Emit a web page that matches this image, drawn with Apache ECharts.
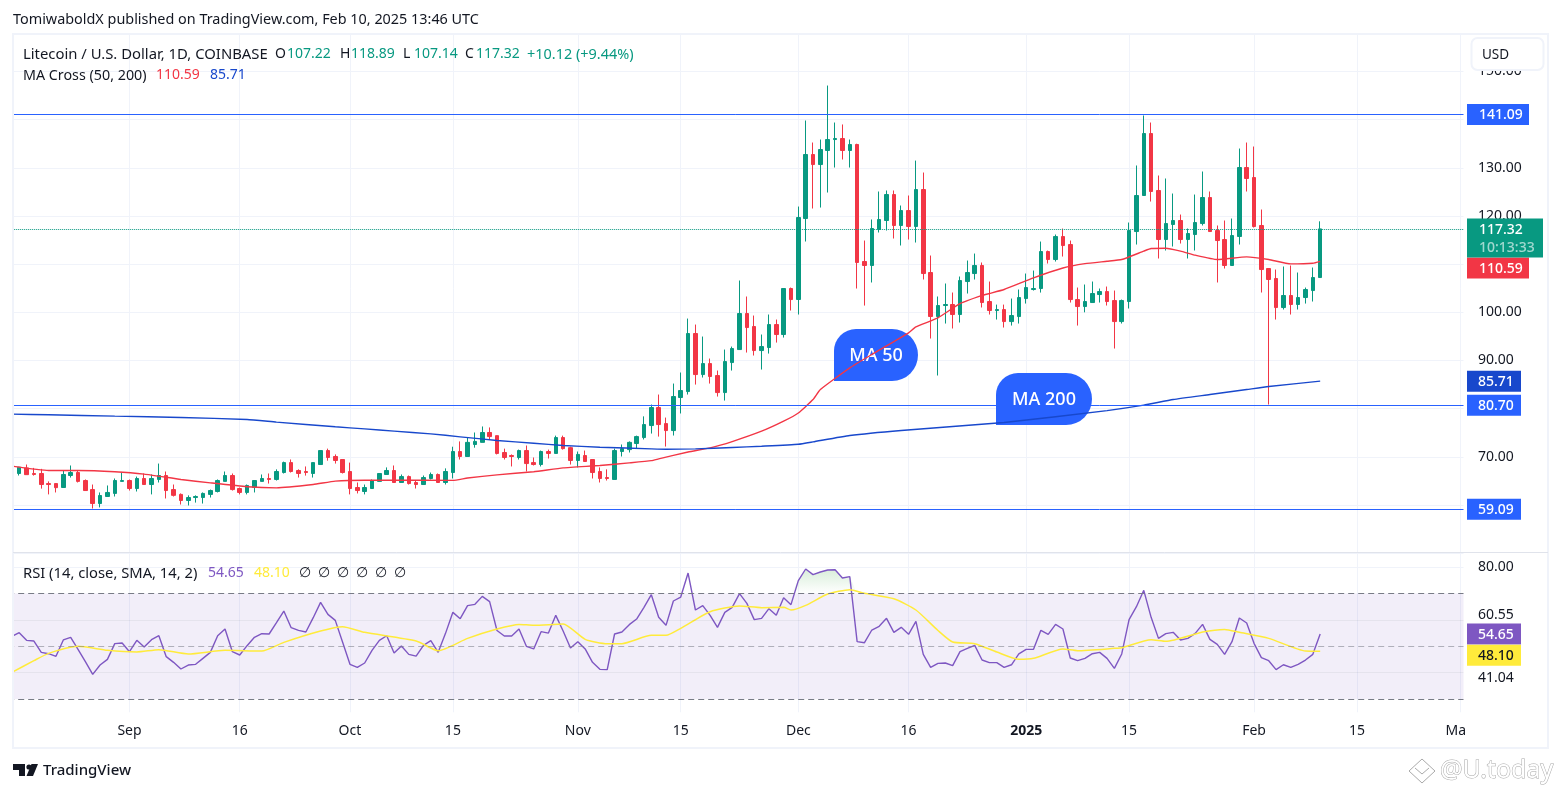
<!DOCTYPE html>
<html>
<head>
<meta charset="utf-8">
<title>LTCUSD</title>
<script src="https://cdn.jsdelivr.net/npm/echarts@6/dist/echarts.min.js"></script>
<style>
    html, body { margin: 0; padding: 0; background: #fff; }
    #main { width: 1561px; height: 792px; }
</style>
</head>
<body>
<div id="main"></div>
<script>
// daily candles, first one is 2024-08-16
var firstDay = '2024-08-16';
var dayCount = 198; // up to 1 March

var opens = [
    65.3,66.54,67.7,66.54,66.54,64.45,64.45,63.63,66.12,66.74,
    65.08,63.2,60.3,61.76,62.4,64.9,65.08,63.42,65.5,64.25,
    65.3,66.12,63.2,62.2,60.93,61.55,61.55,62.2,62.8,64.9,
    66.12,63.42,62.6,63.63,64.9,65.5,65.3,66.74,68.8,67.16,
    66.95,66.54,68.4,71.3,70.07,69.44,66.95,63.63,62.8,63.42,
    64.9,66.33,67.16,64.67,65.9,64.67,64.25,65.5,66.33,64.67,
    66.74,71.1,70.07,72.56,73,75.05,74.4,70.9,70.27,69.86,
    71.3,68.8,68.4,71.1,70.7,74,71.9,69.24,70.27,69.44,
    66.95,65.7,65.3,71.1,71.5,72.76,74,76.49,80.23,76.9,
    75.45,82.31,83.55,95.6,87.08,89.36,86.87,83.34,89.57,92.27,
    99.75,97.05,92.06,92.69,97.46,95.39,104.94,102.66,119.47,132.76,
    130.68,133.59,135.87,136.08,133.59,134.84,110.55,109.72,117.19,119.06,
    124.45,118.02,121.13,117.81,125.49,108.26,99.13,101.41,101.62,99.54,
    106.39,108.05,109.72,102.24,100.37,100.57,98.08,99.12,102.86,104.73,
    104.94,112.62,110.96,115.73,114.07,102.65,101.2,102.03,103.69,104.31,
    102.44,98.08,102.24,116.77,124.25,137.12,125.29,115.11,118.23,119.06,
    115.11,116.15,118.43,123.83,116.98,115.11,109.72,115.74,130.06,127.98,
    118.02,109.09,107.02,100.99,103.49,101.62,103.07,104.52,107.22
];
var closes = [
    66.8,67.85,66.3,66.33,64.25,64.25,63.6,66.33,66.74,64.9,
    63,60.3,61.97,62.6,65.08,65.08,63.42,65.5,64.25,65.5,
    66.12,63,62,60.93,61.55,61.76,62.4,63,65.08,66.12,
    63.2,62.6,64.05,65.08,65.5,65.3,66.95,68.8,66.95,66.54,
    66.74,68.8,71.3,69.86,69.24,66.74,63.42,63,63.63,65.08,
    66.54,67.16,64.67,65.9,64.45,64.25,65.7,66.33,64.67,66.95,
    71.1,70.07,73,73.2,75.05,74.2,70.7,69.86,70.07,71.3,
    68.6,68.4,71.1,70.7,74,71.7,69.24,70.5,69.03,66.74,
    65.5,65.5,71.3,71.7,73,74.2,76.7,80.23,76.7,75.45,
    82.51,83.76,95.6,87.08,89.36,86.67,83.34,89.78,92.48,99.75,
    96.84,92.06,92.89,97.46,95.39,104.94,102.65,119.68,132.76,130.68,
    133.8,135.87,136.08,133.59,134.84,110.34,109.72,117.4,119.27,124.45,
    118.02,121.13,117.81,125.49,108.05,99.13,101.41,101.62,99.54,106.6,
    108.26,109.72,102.03,100.37,100.57,98.08,99.33,103.07,105.14,104.94,
    112.62,110.96,115.73,113.86,102.65,101.2,102.24,103.9,104.31,102.24,
    98.08,102.44,116.98,124.25,137.12,125.08,115.11,118.43,119.06,115.11,
    116.36,118.64,123.83,116.77,114.9,109.72,115.94,130.06,127.78,117.81,
    108.88,106.81,100.99,103.49,101.62,103.07,104.73,107.22,117.32
];
var lows = [
    65,66.12,66.3,66.1,63.4,62.2,62.6,63.63,65.7,64.67,
    63,59.27,59.5,61.76,61.76,64.9,63,62.8,64.25,62.2,
    64.67,61.35,61.76,60.1,59.9,60.5,60.3,61.55,62.6,64.9,
    63,62.2,62.2,62.6,64.9,64.45,65.08,66.54,66.74,65.7,
    66.1,65.7,68.4,69.2,68.6,66.54,62.2,62.4,62.2,63.42,
    64.9,66.33,64.67,64.67,64.25,63.42,64.25,65.3,64.67,64.25,
    65.5,69.44,70.07,71.9,73,73.6,70.5,69.44,68,69.44,
    66.95,68.2,68,69.65,70.7,71.5,68.4,67.8,69.03,65.5,
    64.67,65.08,65.3,70.07,70.9,71.7,73.6,74.83,74.2,72.13,
    74.42,79,82.93,85,86.46,85.21,82.51,81.68,87.91,92.27,
    91.65,91.03,88.12,91.44,93.72,94.76,100.37,99.54,114.7,121.55,
    121.75,124.87,130.06,131.72,130.06,104.94,101.4,106.19,116.57,116.98,
    115.32,113.87,115.11,114.49,106.81,94.56,86.88,97.67,96.64,97.88,
    103.9,106.81,101,99.54,98.5,96.84,97.25,97.67,101.82,104.52,
    104.1,110.13,110.54,111.58,102.03,97.25,100,102.03,102.03,101.41,
    92.48,97.67,100.79,114.07,124.25,123,111.17,112.83,113.66,114.28,
    111.17,112.83,118.02,116.77,106.19,109.09,109.72,114.07,125.08,117.6,
    104.11,80.86,98.5,100.58,99.54,100.58,101.82,102.24,107.14
];
var highs = [
    67.2,67.9,68.4,67.7,67.5,64.9,64.45,67.2,68.2,67.2,
    65.3,64.25,62.6,64.05,65.5,66.74,65.3,65.9,66.54,66.33,
    68.6,66.95,64.25,62.4,62,62,62.6,63.2,65.3,66.95,
    66.54,63.63,64.25,65.08,66.33,66.54,67.4,69,69.45,67.4,
    68,68.8,71.3,71.7,70.5,69.44,68.8,64.67,64.25,65.3,
    66.54,67.8,68.2,66.33,66.12,65.08,66.12,66.74,66.54,67.6,
    72.1,73.2,74,75.05,76.3,76.1,74.4,71.7,70.5,71.5,
    72.35,69.86,71.3,71.5,74.4,74.4,72.1,71.1,71.3,69.44,
    67.8,67.4,71.7,72.56,73.2,74.4,78.4,80.85,82.93,78.15,
    85.21,87.5,98.7,97.46,94.97,90.4,87.91,92.27,92.89,106.6,
    103.28,99.33,95.39,99.54,98.5,104.94,105.14,121.96,139.82,135.25,
    135.87,147.08,139.4,139,135.87,135,114.9,119.27,125.08,125.29,
    125.29,122.17,124.25,131.5,129.02,111.79,103.28,105.98,104.11,107.43,
    110.75,112.2,110.34,106.39,101.6,101.6,102.86,104.73,108.05,108.67,
    114.69,112.82,116.15,117.39,114.9,105.14,105.77,106.39,104.94,105.35,
    104.52,102.65,118.64,130.48,140.86,139.4,128.4,127.78,124.66,120.3,
    117.4,124.45,129.23,125.08,118.02,119.06,119.47,134,135.25,134.42,
    121.34,109.09,108.88,109.51,109.72,108.26,105.14,109.3,118.89
];

// moving averages, read at the listed candle numbers
var ma50Days = [0,5,9,14,18,23,27,32,36,41,44,48,52,60,62,66,71,75,80,84,87,88,92,95,98,102,105,107,109,110,114,117,122,123,126,129,132,133,135,139,143,146,149,151,154,155,157,159,161,164,168,171,174,177,178];
var ma50Values = [68.06,67.16,67.16,66.9,66.4,65.3,64.6,63.8,63.56,64.25,64.95,65.15,65.15,65.1,65.6,66.26,66.9,67.7,68.2,68.75,69.2,69.57,71,71.86,73.17,75.32,77.4,79.1,81.9,83.97,88.47,91.24,95.74,96.98,98.85,101.8,103.5,103.9,104.73,107.15,109.2,110.1,110.6,110.96,112.7,113.24,113.3,112.7,111.86,110.96,111.5,110.96,110.06,110.2,110.59];
var ma200Days = [0,5,14,23,32,36,44,48,52,57,61,66,71,75,80,87,89,93,98,102,107,109,114,121,135,149,154,158,163,168,171,178];
var ma200Values = [78.86,78.72,78.44,78.16,77.75,77.2,76.23,75.8,75.33,74.77,74.15,73.4,72.83,72.35,72,71.66,71.58,71.65,71.93,72.2,72.6,73.1,74.42,75.47,77.12,79.6,80.72,81.9,82.93,83.97,84.6,85.71];

var rsi = [
    53.77,55.16,52.26,52,47.71,47.2,46.2,52.4,53.4,48.85,
    44.18,39.38,42.9,45.06,51,51.25,47.96,52.26,49.73,52.5,
    54,46.07,43.92,41.4,42.9,43.17,45.44,47.71,54,56.55,
    47.96,46.7,50.24,53.4,54.78,54.66,58.95,63.37,57.05,56.04,
    55.4,60.84,66.65,62.1,59.83,51.5,43.17,42,43.67,48.47,
    52.26,54,47.46,50.1,46.95,46.3,50.36,52.13,47.71,54.9,
    62.86,60.46,65.4,65.9,68.92,66.9,56,53.9,53.9,56.55,
    50,49,55.54,55,61.73,55.8,49.35,51.75,49,43.92,
    41.27,41.15,54.66,55.4,58.19,60.34,64.76,69.55,60.97,57.94,
    67.16,68.67,77.76,63.75,65.4,61.73,57.18,62.86,64.76,69.93,
    66.27,60.1,60.6,64.25,61.73,68.42,65.77,74.86,79.28,77.13,
    78.14,78.9,79.02,75.87,76.37,51.75,51.37,56.17,57.56,60.6,
    55.29,57.18,54.53,59.45,46.95,42,43.54,43.67,42.66,47.96,
    49.2,50.36,44.8,43.8,43.8,42,43,47.1,48.85,48.85,
    56.04,54.53,58.32,56.55,45.56,44.55,45.44,47.2,47.71,45.44,
    41.65,47.1,60.1,65,71.2,60.97,53,54.78,55.29,52.4,
    53,54.9,58.32,52.64,50.74,46.95,51.75,60.72,58.82,51.12,
    45.69,44.55,41.15,43,42,43.17,44.8,46.95,54.65
];
var rsiSmaDays = [0,3,5,9,13,17,20,24,29,34,37,42,45,48,55,58,62,66,69,71,75,78,81,83,87,89,91,95,99,102,105,106,108,111,114,116,120,123,126,128,131,134,137,139,143,145,150,151,155,157,162,165,167,171,176,178];
var rsiSmaValues = [40.14,44.55,47.33,50,48.47,47.84,48.72,47.08,48.47,48.2,51.5,55.8,57.43,55.29,52,48.34,53,56.55,58.3,57.94,58.44,52.64,51,51,54.15,54.15,56.8,63.1,65.26,64.63,64.76,63.75,65.5,69.8,71.45,70.06,68,63.75,56,51.63,51,47.84,45.06,45.44,48.97,48.34,49.22,49.48,52.5,51.87,55.4,56.4,55.3,53,48.2,48.1];
var overboughtFrom = 106, overboughtTo = 115;

// x axis ticks
var tickDays = ['2024-09-01','2024-09-16','2024-10-01','2024-10-15','2024-11-01','2024-11-15','2024-12-01','2024-12-16','2025-01-01','2025-01-15','2025-02-01','2025-02-15','2025-03-01'];
var tickLabels = ['Sep','16','Oct','15','Nov','15','Dec','16','{b|2025}','15','Feb','15','{m|Ma}'];
var priceTicks = [150,130,120,100,90,70];
var rsiTicks = [80];

// horizontal levels
var levels = [141.09, 80.70, 59.09];
var lastClose = 117.32;

// price tags at the right edge
var tagValues = [141.09, 110.59, 85.71, 80.70, 59.09, 117.32];
var tagColors = ['#2962ff', '#f23645', '#1848cc', '#2962ff', '#2962ff', '#089981'];
var tagShift = [0, 6.7, 0, 0, 0, 0];
var countdown = '10:13:33';
var rsiTagValues = [54.65, 48.10, 60.55, 41.04];
var rsiTagColors = ['#7e57c2', '#ffeb3b', null, null];
var rsiTagShift = [0, 4, -4.4, 6.7];

var FONT = '"Noto Sans"';
var DARK = '#131722';
var GREEN = '#089981', RED = '#f23645', BLUE = '#2962ff';
var GRIDLINE = '#f0f3fa';

var categories = [];
(function () {
    var t = Date.parse(firstDay + 'T00:00:00Z');
    for (var i = 0; i < dayCount; i++) {
        categories.push(new Date(t + i * 86400000).toISOString().slice(0, 10));
    }
})();

function pairs(days, values) {
    return days.map(function (d, i) { return [categories[d], values[i]]; });
}

function tagSeries(values, colors, shifts, axisIndex) {
    return {
        type: 'custom',
        xAxisIndex: axisIndex,
        yAxisIndex: axisIndex,
        z: 6,
        silent: true,
        encode: { x: 0, y: 1 },
        data: values.map(function (v) { return [categories[0], v]; }),
        renderItem: function (params, api) {
            var i = params.dataIndex;
            var v = values[i];
            var y = api.coord([api.value(0), v])[1];
            var left = 1467;
            var text = v.toFixed(2);
            var kids = [];
            var tagFont = '500 14px ' + FONT;
            if (v === lastClose) {
                kids.push({ type: 'rect', shape: { x: left, y: y - 10.4, width: 76, height: 39 }, style: { fill: colors[i] } });
                kids.push({ type: 'text', style: { text: text, x: left + 12, y: y + 1, fill: '#fff', font: tagFont, textVerticalAlign: 'middle' } });
                kids.push({ type: 'text', style: { text: countdown, x: left + 12, y: y + 19, fill: 'rgba(255,255,255,.62)', font: tagFont, textVerticalAlign: 'middle' } });
                return { type: 'group', children: kids };
            }
            y += shifts[i];
            if (colors[i]) {
                kids.push({ type: 'rect', shape: { x: left, y: y - 10.5, width: v >= 100 ? 62 : 54, height: 21 }, style: { fill: colors[i] } });
            }
            kids.push({ type: 'text', style: {
                text: text, x: left + (v >= 100 ? 12 : 11), y: y + 1,
                fill: !colors[i] || colors[i] === '#ffeb3b' ? DARK : '#fff',
                font: (colors[i] ? tagFont : '14px ' + FONT), textVerticalAlign: 'middle'
            } });
            return { type: 'group', children: kids };
        }
    };
}

function headerText(str, x, y, color, size) {
    return { type: 'text', z: 101, x: x, y: y + 1, silent: true, style: {
        text: str, fill: color || DARK, font: (size || 14) + 'px ' + FONT, textVerticalAlign: 'middle'
    } };
}

function callout(x, y, w, h, label) {
    return [
        { type: 'rect', z: 1, silent: true, shape: { x: x, y: y, width: w, height: h, r: [22, 26, 26, 0] }, style: { fill: BLUE } },
        { type: 'text', z: 1, silent: true, x: x + w / 2, y: y + h / 2 + 1, style: { text: label, fill: '#fff', font: '500 18px ' + FONT, textAlign: 'center', textVerticalAlign: 'middle' } }
    ];
}

var graphics = [
    // white cover round the panes
    { type: 'rect', z: 100, silent: true, shape: { x: 0, y: 0, width: 1561, height: 34 }, style: { fill: '#fff' } },
    { type: 'rect', z: 100, silent: true, shape: { x: 0, y: 0, width: 13, height: 792 }, style: { fill: '#fff' } },
    { type: 'rect', z: 100, silent: true, shape: { x: 13, y: 34, width: 1535, height: 714 }, style: { fill: 'none', stroke: GRIDLINE, lineWidth: 2 } },
    { type: 'line', z: 100, silent: true, shape: { x1: 13, y1: 552.5, x2: 1548, y2: 552.5 }, style: { stroke: '#e0e3eb', lineWidth: 1 } },
    // USD button
    { type: 'rect', z: 100, silent: true, shape: { x: 1471.5, y: 38, width: 72, height: 32, r: 6 }, style: { fill: '#fff', stroke: GRIDLINE, lineWidth: 2 } },
    headerText('USD', 1482, 54, DARK, 13.5),
    headerText('TomiwaboldX published on TradingView.com, Feb 10, 2025 13:46 UTC', 13, 19, DARK, 14.4),
    headerText('Litecoin / U.S. Dollar, 1D, COINBASE', 23, 53.5, DARK, 14.85),
    headerText('O', 275, 53.5), headerText('107.22', 287, 53.5, GREEN),
    headerText('H', 340, 53.5), headerText('118.89', 351, 53.5, GREEN),
    headerText('L', 403, 53.5), headerText('107.14', 414, 53.5, GREEN),
    headerText('C', 465, 53.5), headerText('117.32', 476, 53.5, GREEN),
    headerText('+10.12 (+9.44%)', 527, 53.5, GREEN, 14.45),
    headerText('MA Cross (50, 200)', 23, 74.5, DARK, 14.3),
    headerText('110.59', 156, 74.5, RED),
    headerText('85.71', 210, 74.5, '#1848cc'),
    headerText('RSI (14, close, SMA, 14, 2)', 23, 572.5, DARK, 14.76),
    headerText('54.65', 208, 572.5, '#7e57c2'),
    headerText('48.10', 254, 572.5, '#ffeb3b'),
    headerText('∅', 299, 572.5), headerText('∅', 318, 572.5), headerText('∅', 337, 572.5),
    headerText('∅', 356, 572.5), headerText('∅', 375, 572.5), headerText('∅', 394, 572.5),
    // TradingView logo
    { type: 'polygon', z: 101, silent: true, shape: { points: [[13, 764], [25, 764], [25, 776], [19, 776], [19, 770], [13, 770]] }, style: { fill: DARK } },
    { type: 'circle', z: 101, silent: true, shape: { cx: 29, cy: 767, r: 2.6 }, style: { fill: DARK } },
    { type: 'polygon', z: 101, silent: true, shape: { points: [[31.5, 764], [38, 764], [33, 776], [26.5, 776]] }, style: { fill: DARK } },
    { type: 'text', z: 101, silent: true, x: 43, y: 771, style: { text: 'TradingView', fill: DARK, font: '500 15px ' + FONT, textVerticalAlign: 'middle' } },
    // U.today watermark
    { type: 'polyline', z: 101, silent: true, shape: { points: [[1409, 771], [1422, 759], [1435, 771], [1422, 783], [1409, 771]] }, style: { fill: 'none', stroke: '#aaa', lineWidth: 1 } },
    { type: 'polyline', z: 101, silent: true, shape: { points: [[1415, 768], [1422, 774], [1429, 768]] }, style: { fill: 'none', stroke: '#aaa', lineWidth: 1 } },
    { type: 'text', z: 101, silent: true, x: 1440, y: 771, style: { text: '@U.today', fill: '#fff', stroke: '#a8a8a8', lineWidth: 1, font: '25px ' + FONT, textVerticalAlign: 'middle' } }
].concat(callout(834, 329, 84, 52, 'MA 50'), callout(996, 373, 96, 52, 'MA 200'));

var myChart = echarts.init(document.getElementById('main'));

var hLine = function (v, color, type) {
    return { yAxis: v, lineStyle: { color: color, width: 1, type: type } };
};

var xBase = {
    type: 'category',
    data: categories,
    boundaryGap: true,
    axisLine: { show: false },
    axisTick: { show: false },
    splitLine: {
        show: true,
        alignWithLabel: true,
        interval: function (i, v) { return tickDays.indexOf(v) >= 0; },
        lineStyle: { color: GRIDLINE, width: 1 }
    }
};

var option = {
    animation: false,
    backgroundColor: '#fff',
    grid: [
        { left: 8.2, top: 23.3, width: 1455.3, height: 529.86 },
        { left: 8.2, top: 553.9, width: 1455.3, height: 158.4 }
    ],
    xAxis: [
        Object.assign({}, xBase, { gridIndex: 0, axisLabel: { show: false } }),
        Object.assign({}, xBase, {
            gridIndex: 1,
            axisLabel: {
                show: true,
                interval: function (i, v) { return tickDays.indexOf(v) >= 0; },
                margin: 12,
                color: DARK,
                fontFamily: FONT,
                fontSize: 14,
                formatter: function (v) { return tickLabels[tickDays.indexOf(v)] || ''; },
                rich: {
                    b: { fontWeight: 'bold', color: DARK, fontFamily: FONT, fontSize: 14 },
                    m: { color: DARK, fontFamily: FONT, fontSize: 14, padding: [0, 8, 0, 0] }
                }
            }
        })
    ],
    yAxis: [
        {
            gridIndex: 0, position: 'right', min: 50, max: 160, interval: 10,
            axisLine: { show: false }, axisTick: { show: false },
            splitLine: { show: true, lineStyle: { color: GRIDLINE, width: 1 } },
            axisLabel: {
                margin: 14.5, color: DARK, fontFamily: FONT, fontSize: 14, padding: [2, 0, 0, 0],
                showMinLabel: true, showMaxLabel: true,
                formatter: function (v) { return priceTicks.indexOf(v) >= 0 ? v.toFixed(2) : ''; }
            }
        },
        {
            gridIndex: 1, position: 'right', min: 25, max: 85, interval: 5,
            axisLine: { show: false }, axisTick: { show: false },
            splitLine: { show: false },
            axisLabel: {
                margin: 14.5, color: DARK, fontFamily: FONT, fontSize: 14, padding: [2, 0, 0, 0],
                formatter: function (v) { return rsiTicks.indexOf(v) >= 0 ? v.toFixed(2) : ''; }
            }
        }
    ],
    graphic: graphics,
    series: [
        {
            name: 'LTCUSD',
            type: 'candlestick',
            xAxisIndex: 0, yAxisIndex: 0,
            z: 3,
            barWidth: 4,
            itemStyle: { color: GREEN, color0: RED, borderColor: GREEN, borderColor0: RED, borderWidth: 1 },
            data: opens.map(function (o, i) { return [o, closes[i], lows[i], highs[i]]; }),
            markLine: {
                silent: true, symbol: 'none', label: { show: false }, animation: false,
                data: levels.map(function (v) { return hLine(v, BLUE, 'solid'); })
                    .concat([hLine(lastClose, GREEN, 'dotted')])
            }
        },
        {
            name: 'MA 50', type: 'line', xAxisIndex: 0, yAxisIndex: 0, z: 4,
            symbol: 'none', smooth: 0.15, lineStyle: { color: RED, width: 1.4 },
            data: pairs(ma50Days, ma50Values)
        },
        {
            name: 'MA 200', type: 'line', xAxisIndex: 0, yAxisIndex: 0, z: 4,
            symbol: 'none', smooth: 0.15, lineStyle: { color: '#1848cc', width: 1.4 },
            data: pairs(ma200Days, ma200Values)
        },
        tagSeries(tagValues, tagColors, tagShift, 0),
        {
            name: 'overbought', type: 'line', xAxisIndex: 1, yAxisIndex: 1, z: 2,
            symbol: 'none', lineStyle: { width: 0 },
            areaStyle: {
                origin: 70,
                color: new echarts.graphic.LinearGradient(0, 0, 0, 1, [
                    { offset: 0, color: 'rgba(76,175,80,0.3)' },
                    { offset: 1, color: 'rgba(76,175,80,0)' }
                ])
            },
            data: rsi.map(function (v, i) {
                if (i < overboughtFrom || i > overboughtTo) return [categories[i], null];
                return [categories[i], Math.max(v, 70)];
            })
        },
        {
            name: 'RSI', type: 'line', xAxisIndex: 1, yAxisIndex: 1, z: 4,
            symbol: 'none', lineStyle: { color: '#7e57c2', width: 1.4 },
            data: rsi.map(function (v, i) { return [categories[i], v]; }),
            markArea: {
                silent: true,
                itemStyle: { color: 'rgba(126,87,194,0.1)' },
                data: [[{ yAxis: 70 }, { yAxis: 30 }]]
            },
            markLine: {
                silent: true, symbol: 'none', label: { show: false },
                data: [
                    hLine(80, GRIDLINE, 'solid'), hLine(60, 'rgba(42,46,57,0.06)', 'solid'), hLine(40, 'rgba(42,46,57,0.06)', 'solid'),
                    hLine(70, '#787b86', [6, 4]), hLine(30, '#787b86', [6, 4]), hLine(50, 'rgba(120,123,134,0.55)', [6, 4])
                ]
            }
        },
        {
            name: 'RSI SMA', type: 'line', xAxisIndex: 1, yAxisIndex: 1, z: 4,
            symbol: 'none', smooth: 0.2, lineStyle: { color: '#ffeb3b', width: 1.5 },
            data: pairs(rsiSmaDays, rsiSmaValues)
        },
        tagSeries(rsiTagValues, rsiTagColors, rsiTagShift, 1)
    ]
};

myChart.setOption(option);
window.addEventListener('resize', function () {
    myChart.resize();
});
</script>
</body>
</html>
